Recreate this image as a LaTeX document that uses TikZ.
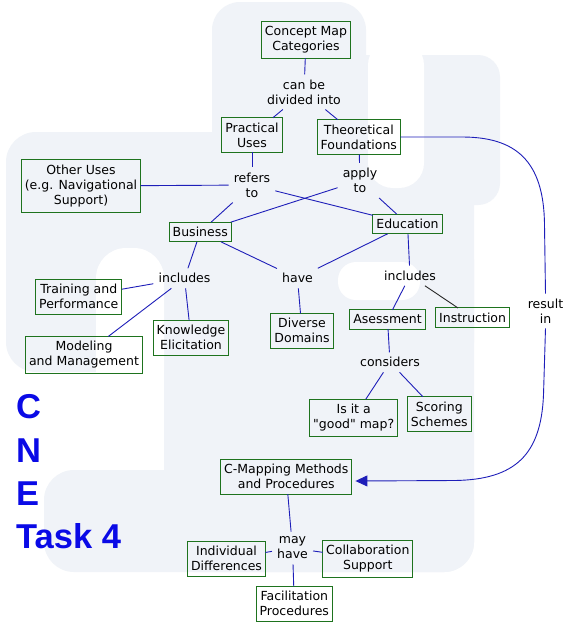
\documentclass[tikz,border=0pt]{standalone}
\usepackage{fontspec}
\setmainfont{DejaVu Sans}[Ligatures=TeXOff]
\newfontfamily\titlefont{Liberation Sans}[Ligatures=TeXOff]
\usetikzlibrary{arrows.meta}
\definecolor{wm}{RGB}{240,243,248}
\definecolor{boxgreen}{RGB}{30,115,30}
\definecolor{linkblue}{RGB}{30,30,185}
\definecolor{darklink}{RGB}{40,40,40}
\definecolor{titleblue}{RGB}{10,10,230}
\begin{document}
\begin{tikzpicture}[x=1pt,y=-1pt,
  concept/.style={draw=boxgreen, line width=1pt, inner xsep=3.5pt, inner ysep=5pt,
    align=center, font=\fontsize{12.5}{15}\selectfont, outer sep=0pt},
  linkphrase/.style={inner sep=5pt, align=center, font=\fontsize{12.5}{15}\selectfont},
  link/.style={draw=linkblue, line width=0.9pt},
  plainlink/.style={draw=darklink, line width=0.9pt},
  titletext/.style={anchor=base west, inner sep=0pt, text=titleblue,
    font=\titlefont\bfseries\fontsize{34.5}{34.5}\selectfont},
  wmshape/.style={fill=wm},
  wmcut/.style={fill=white}
]
\useasboundingbox (0,0) rectangle (569,625);
\fill[white] (0,0) rectangle (569,625);
% watermark
\fill[wmshape, rounded corners=28pt] (212,2) rectangle (366,205);
\fill[wmshape, rounded corners=22pt] (340,55) rectangle (500,205);
\fill[wmshape, rounded corners=30pt] (6,132) rectangle (474,372);
\fill[wmshape, rounded corners=30pt] (164,230) rectangle (474,572);
\fill[wmshape, rounded corners=30pt] (44,470) rectangle (474,572);
\fill[wmcut, rounded corners=25pt] (368,40) rectangle (424,188);
\fill[wmcut, rounded corners=18pt] (338,262) rectangle (420,300);
\fill[wmcut, rounded corners=30pt] (96,248) rectangle (164,400);
% title
\node[titletext] (tC) at (16,418) {C};
\node[titletext] (tN) at (16,462) {N};
\node[titletext] (tE) at (16,505) {E};
\node[titletext] (tT) at (16,548) {Task 4};
% concepts and linking phrases
\node[concept] (cmc) at (306,39.7) {Concept Map\\Categories};
\node[linkphrase] (l1) at (304,92) {can be\\divided into};
\node[concept] (pu) at (252,135) {Practical\\Uses};
\node[concept] (tf) at (358.8,137) {Theoretical\\Foundations};
\node[concept] (ou) at (81,186) {Other Uses\\(e.g. Navigational\\Support)};
\node[linkphrase] (l2) at (252,185) {refers\\to};
\node[linkphrase] (l3) at (360,180.5) {apply\\to};
\node[concept] (bus) at (200.3,232) {Business};
\node[concept] (edu) at (407.5,224) {Education};
\node[linkphrase] (l4) at (184.5,278.3) {includes};
\node[linkphrase] (l5) at (297.5,278.3) {have};
\node[linkphrase] (l6) at (410,275.7) {includes};
\node[concept] (tp) at (78.8,296.7) {Training and\\Performance};
\node[concept] (mm) at (84,355) {Modeling\\and Management};
\node[concept] (ke) at (191,337.7) {Knowledge\\Elicitation};
\node[concept] (dd) at (302,330.8) {Diverse\\Domains};
\node[concept] (as) at (387.5,319.5) {Asessment};
\node[concept] (in) at (472.6,317.8) {Instruction};
\node[linkphrase] (l7) at (390,362.3) {considers};
\node[concept] (gm) at (353.7,417.7) {Is it a\\"good" map?};
\node[concept] (ss) at (439.3,414) {Scoring\\Schemes};
\node[linkphrase] (l8) at (545.5,311) {result\\in};
\node[concept] (cm) at (286.3,476.7) {C-Mapping Methods\\and Procedures};
\node[linkphrase] (l9) at (292.5,548) {may\\have};
\node[concept] (id) at (226.5,558.8) {Individual\\Differences};
\node[concept] (cs) at (367.8,558.8) {Collaboration\\Support};
\node[concept] (fp) at (294.3,603.8) {Facilitation\\Procedures};
% connectors
\draw[link] (cmc) -- (l1);
\draw[link] (l1) -- (pu);
\draw[link] (l1) -- (tf);
\draw[link] (pu) -- (l2);
\draw[link] (l2) -- (ou);
\draw[link] (l2) -- (bus);
\draw[link] (l2) -- (edu);
\draw[link] (tf) -- (l3);
\draw[link] (l3) -- (bus);
\draw[link] (l3) -- (edu);
\draw[link] (bus) -- (l4);
\draw[link] (l4) -- (tp);
\draw[link] (l4) -- (mm);
\draw[link] (l4) -- (ke);
\draw[link] (bus) -- (l5);
\draw[link] (edu) -- (l5);
\draw[link] (l5) -- (dd);
\draw[link] (edu) -- (l6);
\draw[link] (l6) -- (as);
\draw[plainlink] (l6) -- (in);
\draw[link] (as) -- (l7);
\draw[link] (l7) -- (gm);
\draw[link] (l7) -- (ss);
\draw[link] (cm) -- (l9);
\draw[link] (l9) -- (id);
\draw[link] (l9) -- (cs);
\draw[link] (l9) -- (fp);
\draw[link] (tf.east) -- (462,137) .. controls (515,137) and (544,160) .. (544.5,225) -- (l8.north);
\draw[link, -{Triangle[length=12pt,width=11pt]}] (l8.south) -- (543.5,395)
  .. controls (541,455) and (515,479.5) .. (455,480.5) -- ([xshift=3.5pt,yshift=-4.3pt]cm.east);
\end{tikzpicture}
\end{document}
